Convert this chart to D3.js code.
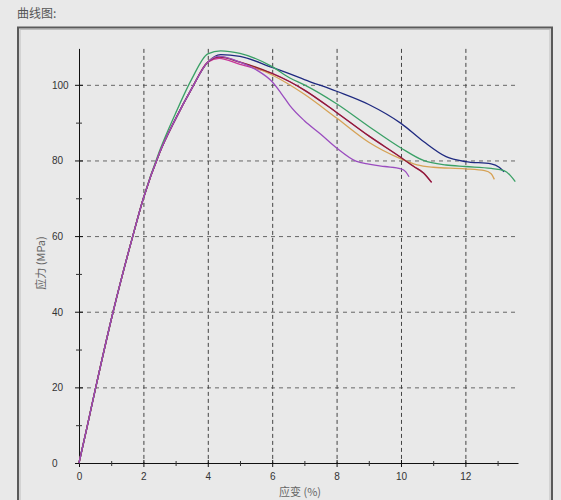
<!DOCTYPE html>
<html><head><meta charset="utf-8">
<script src="https://cdn.jsdelivr.net/npm/d3@7"></script>
<style>html,body{margin:0;padding:0;background:#e9e9e9;}svg{display:block;}</style>
</head><body>
<svg id="c" width="561" height="500"></svg>
<script>
const xMajorTicks = [0, 2, 4, 6, 8, 10, 12];
const xMinorTicks = [1, 3, 5, 7, 9, 11, 13];
const yMajorTicks = [0, 20, 40, 60, 80, 100];
const yMinorTicks = [10, 30, 50, 70, 90];
const titleText = "曲线图:";
const xLabel = "应变 (%)";
const yLabel = "应力 (MPa)";

const rise = [[0,0],[0.25,9.5],[0.52,20],[1.06,40],[1.67,60],[2,70],[2.5,82],[3,91],[3.5,99],[4,106]];
const magentaPts = rise.concat([[4.35,107],[5,105.4],[6,103],[6.55,100.8],[7,98.6],[8,92.7],[9,86.5],[10,80.8],[10.4,78.4],[10.7,76.7],[10.95,74.2]]);
const navyPts = rise.concat([[4.4,108],[5,107.5],[6,104.6],[6.55,102.9],[7,101.4],[8,98.3],[9,94.8],[10,89.8],[10.7,85],[11.4,81],[12,79.7],[12.8,79.1],[13.05,78.2],[13.2,77]]);
const greenPts = [[0,0],[0.25,9.5],[0.52,20],[1.06,40],[1.67,60],[2,70],[2.5,82.5],[3,92.5],[3.5,101.5],[4,108.2],[4.4,109],[5,108.3],[6,104.8],[6.55,101.8],[7,100],[8,95],[9,89],[10,83.3],[10.7,80],[11.4,78.8],[12,78.4],[12.8,77.9],[13.2,77.3],[13.4,76],[13.55,74.4]];
const tanPts = rise.concat([[4.35,107.5],[5,106],[6,102.6],[7,97.5],[8,91.2],[9,84.8],[10,80.4],[10.5,78.8],[11,78.2],[12,77.8],[12.6,77.3],[12.8,76.5],[12.9,75]]);
const maroonPts = rise.concat([[4.35,107.3],[5,106],[6,103],[6.55,100.8],[7,98.6],[8,92.7],[9,86.5],[10,80.8],[10.4,78.4],[10.7,76.7],[10.95,74.2]]);
const purplePts = rise.concat([[4.35,107.5],[5,106],[5.5,104],[6,100.8],[6.3,97.5],[6.55,94.5],[7,90.5],[7.5,87],[8,83.3],[8.6,79.8],[9,79],[9.5,78.4],[10,77.8],[10.15,77],[10.25,75.7]]);

const series = [
  {pts: magentaPts, color: "#c8359a"},
  {pts: navyPts, color: "#1f2a80"},
  {pts: greenPts, color: "#3aa066"},
  {pts: tanPts, color: "#d6a256"},
  {pts: maroonPts, color: "#8e1f34"},
  {pts: purplePts, color: "#9a4cbf"}
];

const svg = d3.select("#c");
const x = d3.scaleLinear().domain([0, 13.6]).range([79, 516.9]);
const y = d3.scaleLinear().domain([0, 110]).range([463, 47]);
const xAxisEnd = 13.65, yAxisTop = 109.5;

// frame
svg.append("rect").attr("x",18).attr("y",27.5).attr("width",534).attr("height",490)
  .attr("fill","none").attr("stroke","#5a5a5a").attr("stroke-width",2);
svg.append("rect").attr("x",20).attr("y",29.5).attr("width",530).attr("height",490)
  .attr("fill","none").attr("stroke","#bdbdbd").attr("stroke-width",1);

svg.append("text").attr("x",17).attr("y",18).attr("font-size",12)
  .attr("font-family","'Noto Sans CJK SC', sans-serif").attr("fill","#555").text(titleText);

// grid
const g = svg.append("g");
g.selectAll(".hg").data(yMajorTicks.filter(d=>d>0)).enter().append("line")
  .attr("x1", x(0)).attr("x2", x(xAxisEnd)).attr("y1", d=>y(d)+0.5).attr("y2", d=>y(d)+0.5)
  .attr("stroke","#666").attr("stroke-dasharray","4,4").attr("stroke-width",1);
g.selectAll(".vg").data(xMajorTicks.filter(d=>d>0)).enter().append("line")
  .attr("x1", d=>x(d)+0.5).attr("x2", d=>x(d)+0.5).attr("y1", y(yAxisTop)).attr("y2", y(0))
  .attr("stroke","#444").attr("stroke-dasharray","4,3").attr("stroke-width",1);

// axes
g.append("line").attr("x1",75).attr("x2",x(xAxisEnd)).attr("y1",y(0)+0.5).attr("y2",y(0)+0.5).attr("stroke","#111");
g.append("line").attr("x1",x(0)+0.5).attr("x2",x(0)+0.5).attr("y1",y(yAxisTop)).attr("y2",y(0)+4).attr("stroke","#111");
g.selectAll(".xt").data(xMajorTicks).enter().append("line")
  .attr("x1",d=>x(d)+0.5).attr("x2",d=>x(d)+0.5).attr("y1",y(0)-3).attr("y2",y(0)+4).attr("stroke","#111");
g.selectAll(".xm").data(xMinorTicks).enter().append("line")
  .attr("x1",d=>x(d)+0.5).attr("x2",d=>x(d)+0.5).attr("y1",y(0)-2).attr("y2",y(0)+3).attr("stroke","#333");
g.selectAll(".yt").data(yMajorTicks).enter().append("line")
  .attr("x1",x(0)-4).attr("x2",x(0)+4).attr("y1",d=>y(d)+0.5).attr("y2",d=>y(d)+0.5).attr("stroke","#111");
g.selectAll(".ym").data(yMinorTicks).enter().append("line")
  .attr("x1",x(0)-3).attr("x2",x(0)+3).attr("y1",d=>y(d)+0.5).attr("y2",d=>y(d)+0.5).attr("stroke","#333");

const lab = "'Liberation Sans', Arial, sans-serif";
g.selectAll(".xl").data(xMajorTicks).enter().append("text")
  .attr("x",d=>x(d)+0.5).attr("y",y(0)+17).attr("text-anchor","middle").attr("font-size",10)
  .attr("font-family",lab).attr("fill","#333").text(d=>d);
g.selectAll(".yl").data(yMajorTicks).enter().append("text")
  .attr("x",52).attr("y",d=>y(d)+4).attr("text-anchor","start").attr("font-size",10)
  .attr("font-family",lab).attr("fill","#333").text(d=>d);

svg.append("text").attr("x",279).attr("y",496).attr("font-size",11)
  .attr("font-family","'Noto Sans CJK SC', sans-serif").attr("fill","#666").text(xLabel);
svg.append("text").attr("transform","translate(45,263) rotate(-90)").attr("text-anchor","middle")
  .attr("font-size",11).attr("font-family","'Noto Sans CJK SC', sans-serif").attr("fill","#666").text(yLabel);

// curves
const line = d3.line().x(d=>x(d[0])).y(d=>y(d[1])).curve(d3.curveMonotoneX);
svg.append("g").selectAll("path").data(series).enter().append("path")
  .attr("d", d=>line(d.pts)).attr("fill","none").attr("stroke",d=>d.color).attr("stroke-width",1.3);
</script>
</body></html>
